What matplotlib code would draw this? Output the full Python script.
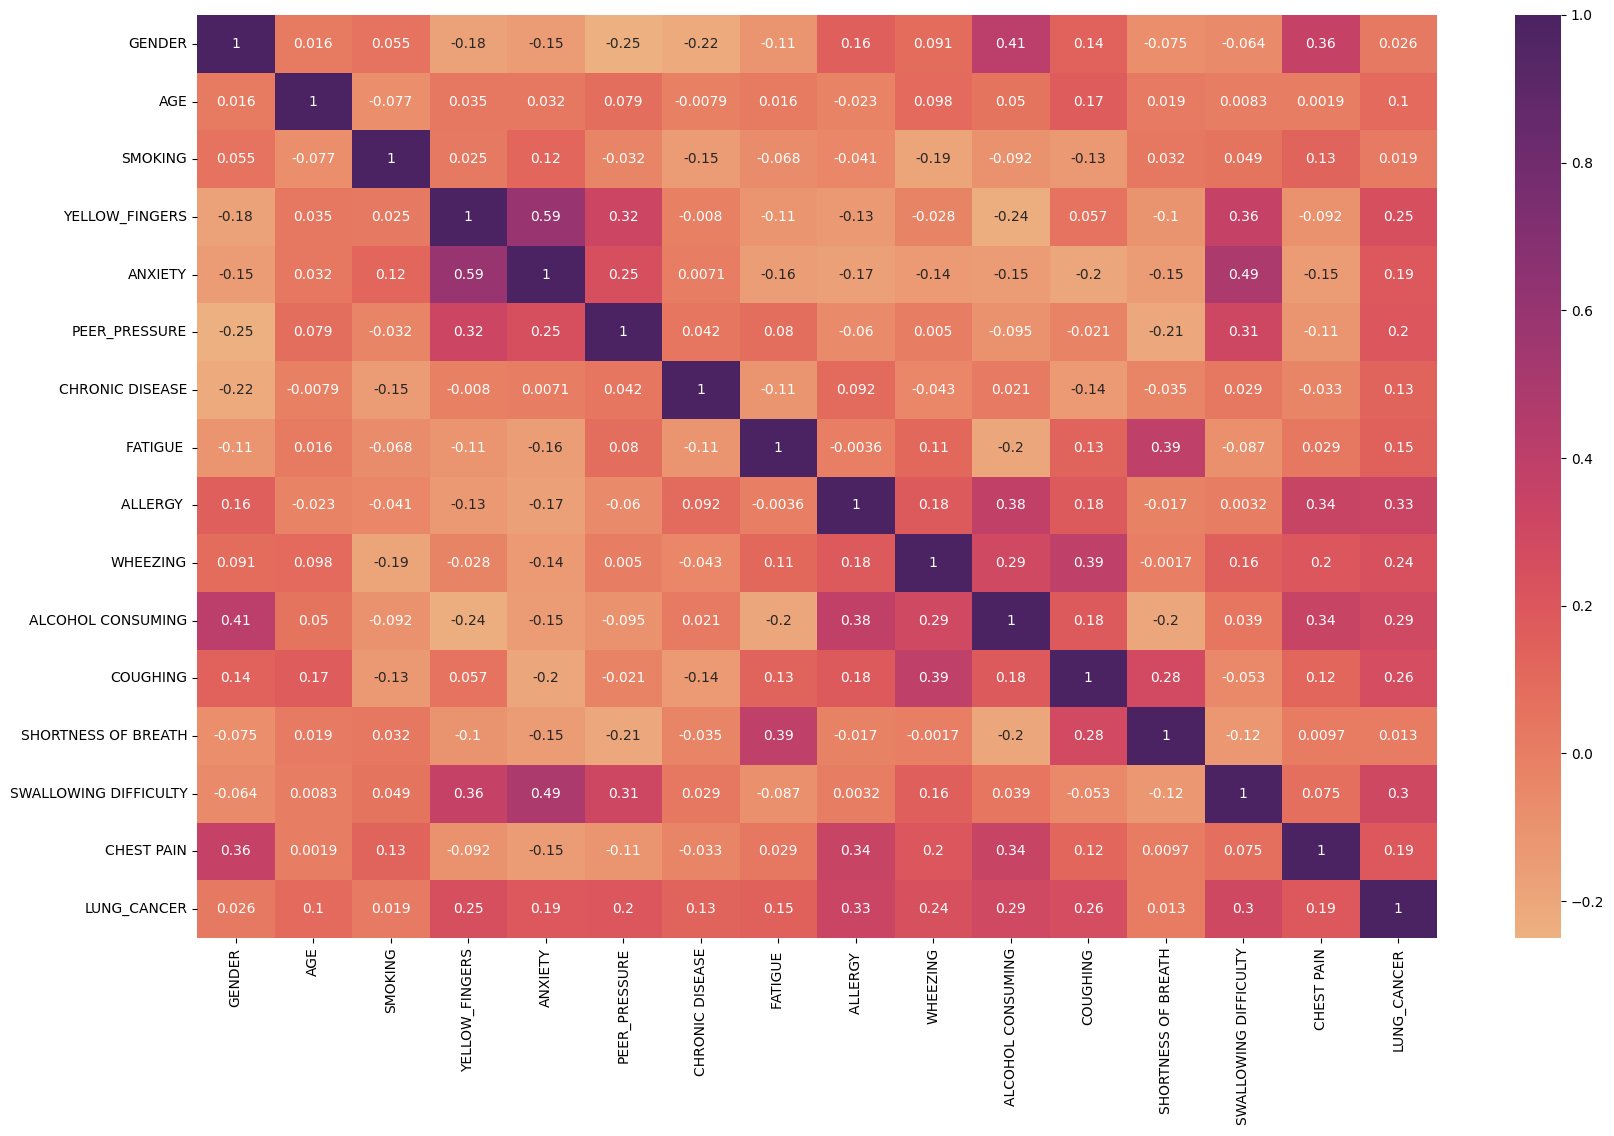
import numpy as np
import matplotlib
matplotlib.use("Agg")
import matplotlib.pyplot as plt
import seaborn as sns

labels = ["GENDER", "AGE", "SMOKING", "YELLOW_FINGERS", "ANXIETY", "PEER_PRESSURE",
          "CHRONIC DISEASE", "FATIGUE ", "ALLERGY ", "WHEEZING", "ALCOHOL CONSUMING",
          "COUGHING", "SHORTNESS OF BREATH", "SWALLOWING DIFFICULTY", "CHEST PAIN", "LUNG_CANCER"]

gender = [1, 0.016, 0.055, -0.18, -0.15, -0.25, -0.22, -0.11, 0.16, 0.091, 0.41, 0.14, -0.075, -0.064, 0.36, 0.026]
age = [0.016, 1, -0.077, 0.035, 0.032, 0.079, -0.0079, 0.016, -0.023, 0.098, 0.05, 0.17, 0.019, 0.0083, 0.0019, 0.1]
smoking = [0.055, -0.077, 1, 0.025, 0.12, -0.032, -0.15, -0.068, -0.041, -0.19, -0.092, -0.13, 0.032, 0.049, 0.13, 0.019]
yellow = [-0.18, 0.035, 0.025, 1, 0.59, 0.32, -0.008, -0.11, -0.13, -0.028, -0.24, 0.057, -0.1, 0.36, -0.092, 0.25]
anxiety = [-0.15, 0.032, 0.12, 0.59, 1, 0.25, 0.0071, -0.16, -0.17, -0.14, -0.15, -0.2, -0.15, 0.49, -0.15, 0.19]
peer = [-0.25, 0.079, -0.032, 0.32, 0.25, 1, 0.042, 0.08, -0.06, 0.005, -0.095, -0.021, -0.21, 0.31, -0.11, 0.2]
chronic = [-0.22, -0.0079, -0.15, -0.008, 0.0071, 0.042, 1, -0.11, 0.092, -0.043, 0.021, -0.14, -0.035, 0.029, -0.033, 0.13]
fatigue = [-0.11, 0.016, -0.068, -0.11, -0.16, 0.08, -0.11, 1, -0.0036, 0.11, -0.2, 0.13, 0.39, -0.087, 0.029, 0.15]
allergy = [0.16, -0.023, -0.041, -0.13, -0.17, -0.06, 0.092, -0.0036, 1, 0.18, 0.38, 0.18, -0.017, 0.0032, 0.34, 0.33]
wheezing = [0.091, 0.098, -0.19, -0.028, -0.14, 0.005, -0.043, 0.11, 0.18, 1, 0.29, 0.39, -0.0017, 0.16, 0.2, 0.24]
alcohol = [0.41, 0.05, -0.092, -0.24, -0.15, -0.095, 0.021, -0.2, 0.38, 0.29, 1, 0.18, -0.2, 0.039, 0.34, 0.29]
coughing = [0.14, 0.17, -0.13, 0.057, -0.2, -0.021, -0.14, 0.13, 0.18, 0.39, 0.18, 1, 0.28, -0.053, 0.12, 0.26]
shortness = [-0.075, 0.019, 0.032, -0.1, -0.15, -0.21, -0.035, 0.39, -0.017, -0.0017, -0.2, 0.28, 1, -0.12, 0.0097, 0.013]
swallowing = [-0.064, 0.0083, 0.049, 0.36, 0.49, 0.31, 0.029, -0.087, 0.0032, 0.16, 0.039, -0.053, -0.12, 1, 0.075, 0.3]
chest = [0.36, 0.0019, 0.13, -0.092, -0.15, -0.11, -0.033, 0.029, 0.34, 0.2, 0.34, 0.12, 0.0097, 0.075, 1, 0.19]
lung = [0.026, 0.1, 0.019, 0.25, 0.19, 0.2, 0.13, 0.15, 0.33, 0.24, 0.29, 0.26, 0.013, 0.3, 0.19, 1]

corr = np.array([gender, age, smoking, yellow, anxiety, peer, chronic, fatigue, allergy,
                 wheezing, alcohol, coughing, shortness, swallowing, chest, lung])

W, H = 1614, 1136
fig = plt.figure(figsize=(W / 100, H / 100), dpi=100)
# place the heatmap and colorbar where they sit in the reference (pixel boxes)
ax = fig.add_axes([197 / W, 1 - 938 / H, 1240 / W, 923 / H])
cax = fig.add_axes([1515 / W, 1 - 938 / H, 46 / W, 923 / H])
sns.heatmap(corr, annot=True, cmap="flare", xticklabels=labels, yticklabels=labels,
            ax=ax, cbar_ax=cax)
fig.savefig("out.png", dpi=100)
